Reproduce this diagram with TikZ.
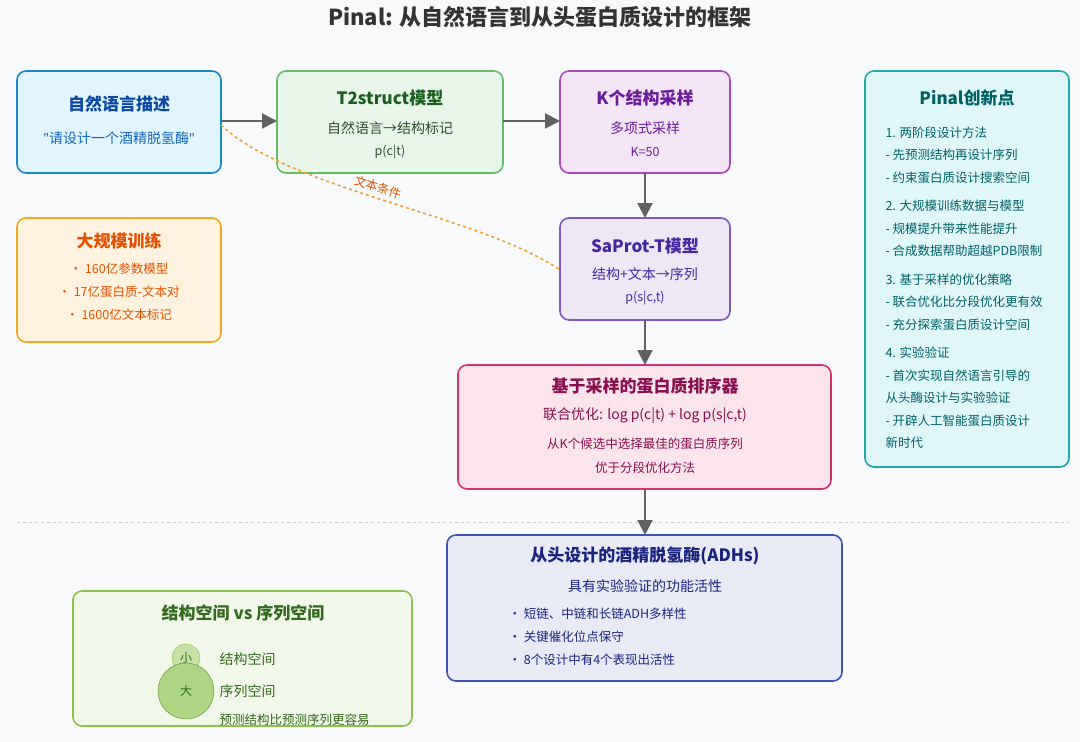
\documentclass[tikz,border=0pt]{standalone}
\usepackage{fontspec}
\setmainfont{Noto Sans CJK SC}
\newfontfamily\latinf{Noto Sans}
\usetikzlibrary{arrows.meta}
\definecolor{bgc}{HTML}{F7F9FB}
\definecolor{arrc}{HTML}{616161}
\definecolor{blueD}{HTML}{1E88C5}\definecolor{blueF}{HTML}{E1F5FE}\definecolor{blueT}{HTML}{0D47A1}\definecolor{blueS}{HTML}{1565C0}
\definecolor{grnD}{HTML}{66BB6A}\definecolor{grnF}{HTML}{E8F5E9}\definecolor{grnT}{HTML}{1B5E20}\definecolor{grnS}{HTML}{2E4E2E}
\definecolor{purD}{HTML}{AB47BC}\definecolor{purF}{HTML}{F3E5F5}\definecolor{purT}{HTML}{6A1B9A}
\definecolor{vioD}{HTML}{7E57C2}\definecolor{vioF}{HTML}{EDE7F6}\definecolor{vioT}{HTML}{4527A0}
\definecolor{orD}{HTML}{F5A623}\definecolor{orF}{HTML}{FFF3E0}\definecolor{orT}{HTML}{E65100}
\definecolor{pinD}{HTML}{D6336C}\definecolor{pinF}{HTML}{FCE4EC}\definecolor{pinT}{HTML}{880E4F}
\definecolor{indD}{HTML}{3F51B5}\definecolor{indF}{HTML}{E8EAF6}\definecolor{indT}{HTML}{1A237E}
\definecolor{limD}{HTML}{8BC34A}\definecolor{limF}{HTML}{F1F8E9}\definecolor{limT}{HTML}{33691E}
\definecolor{limA}{HTML}{C5E1A5}\definecolor{limB}{HTML}{AED581}\definecolor{limC}{HTML}{558B2F}
\definecolor{cyaD}{HTML}{26A6A6}\definecolor{cyaF}{HTML}{E0F7FA}\definecolor{cyaT}{HTML}{006064}
\definecolor{dashO}{HTML}{F0A030}\definecolor{dashT}{HTML}{D35400}
\tikzset{font=\fontsize{12}{14}\selectfont}
\tikzstyle{box}=[draw,line width=1.6pt,rounded corners=9pt]
\tikzstyle{ttl}=[font=\bfseries\fontsize{17}{19}\selectfont]
\tikzstyle{txt}=[font=\fontsize{14}{16}\selectfont]
\tikzstyle{sm}=[font=\fontsize{12.5}{14}\selectfont]
\tikzstyle{flow}=[-{Triangle[length=15pt,width=15pt]},line width=2pt,draw=arrc]

\begin{document}
\begin{tikzpicture}[x=1pt,y=-1pt]
	\fill[bgc] (0,0) rectangle (1080,742);
	\useasboundingbox (0,0) rectangle (1080,742);
	\node [font=\bfseries\fontsize{22}{24}\selectfont,text=black!80] (title) at (540,17) {Pinal: 从自然语言到从头蛋白质设计的框架};
	% boxes
	\draw[box,draw=blueD,fill=blueF] (17,71) rectangle (221,173);
	\draw[box,draw=grnD,fill=grnF] (277,71) rectangle (503,173);
	\draw[box,draw=purD,fill=purF] (560,71) rectangle (730,173);
	\draw[box,draw=vioD,fill=vioF] (560,218) rectangle (730,320);
	\draw[box,draw=orD,fill=orF] (17,218) rectangle (221,342);
	\draw[box,draw=pinD,fill=pinF] (458,365) rectangle (831,489);
	\draw[box,draw=indD,fill=indF] (447,535) rectangle (842,681);
	\draw[box,draw=limD,fill=limF] (73,591) rectangle (412,726);
	\draw[box,draw=cyaD,fill=cyaF] (865,71) rectangle (1069,467);
	\draw[dashed,draw=black!20,line width=0.6pt] (17,522) -- (1069,522);
	% anchors for connectors
	\coordinate (nl) at (221,121);
	\coordinate (t2in) at (277,121);
	\coordinate (t2out) at (503,121);
	\coordinate (kin) at (560,121);
	\coordinate (kout) at (645,173);
	\coordinate (sain) at (645,218);
	\coordinate (saout) at (645,320);
	\coordinate (soin) at (645,365);
	\coordinate (soout) at (645,489);
	\coordinate (adin) at (645,535);
	\coordinate (tc) at (221,125);
	\coordinate (sal) at (560,270);
	% texts
	\node [ttl,text=blueT] (nlt) at (119,104) {自然语言描述};
	\node [txt,text=blueS] (nlq) at (119,138) {{\latinf"}请设计一个酒精脱氢酶{\latinf"}};
	\node [ttl,text=grnT] (t2t) at (390,98) {T2struct模型};
	\node [txt,text=grnS] (t2a) at (390,128) {自然语言→结构标记};
	\node [sm,text=grnS] (t2b) at (390,152) {p(c|t)};
	\node [ttl,text=purT] (kt) at (645,98) {K个结构采样};
	\node [txt,text=purT] (ka) at (645,128) {多项式采样};
	\node [sm,text=purT] (kb) at (645,152) {K=50};
	\node [ttl,text=vioT] (sat) at (645,246) {SaProt-T模型};
	\node [txt,text=vioT] (saa) at (645,274) {结构+文本→序列};
	\node [sm,text=vioT] (sab) at (645,298) {p(s|c,t)};
	\node [ttl,text=orT] (trt) at (119,241) {大规模训练};
	\node [sm,text=orT] (tra) at (119,269) {· 160亿参数模型};
	\node [sm,text=orT] (trb) at (119,292) {· 17亿蛋白质-文本对};
	\node [sm,text=orT] (trc) at (119,315) {· 1600亿文本标记};
	\node [ttl,text=pinT] (sot) at (645,386) {基于采样的蛋白质排序器};
	\node [txt,text=pinT] (soa) at (645,416) {联合优化: log p(c|t) + log p(s|c,t)};
	\node [sm,text=pinT] (sob) at (645,444) {从K个候选中选择最佳的蛋白质序列};
	\node [sm,text=pinT] (soc) at (645,468) {优于分段优化方法};
	\node [ttl,text=indT] (adt) at (645,556) {从头设计的酒精脱氢酶(ADHs)};
	\node [txt,text=indT] (ada) at (645,586) {具有实验验证的功能活性};
	\node [sm,anchor=west,text=indT] (adb) at (505,614) {· 短链、中链和长链ADH多样性};
	\node [sm,anchor=west,text=indT] (adc) at (505,637) {· 关键催化位点保守};
	\node [sm,anchor=west,text=indT] (add) at (505,660) {· 8个设计中有4个表现出活性};
	\node [ttl,text=limT] (spt) at (243,613) {结构空间 vs 序列空间};
	\node [circle,draw=limD,fill=limA,minimum size=28pt,inner sep=0pt,text=limT] (small) at (186,658) {小};
	\node [circle,draw=limC,fill=limB,minimum size=56pt,inner sep=0pt,text=limT] (big) at (186,691) {大};
	\node [txt,anchor=west,text=limT] (spa) at (216,659) {结构空间};
	\node [txt,anchor=west,text=limT] (spb) at (216,691) {序列空间};
	\node [sm,anchor=west,text=limT] (spc) at (216,720) {预测结构比预测序列更容易};
	\node [ttl,text=cyaT] (pit) at (967,98) {Pinal创新点};
	\node [sm,anchor=north west,text=cyaT,align=left,font=\fontsize{12.5}{22.5}\selectfont] (pib) at (882,123) {1. 两阶段设计方法\\- 先预测结构再设计序列\\- 约束蛋白质设计搜索空间\\[6pt]2. 大规模训练数据与模型\\- 规模提升带来性能提升\\- 合成数据帮助超越PDB限制\\[6pt]3. 基于采样的优化策略\\- 联合优化比分段优化更有效\\- 充分探索蛋白质设计空间\\[6pt]4. 实验验证\\- 首次实现自然语言引导的\\从头酶设计与实验验证\\- 开辟人工智能蛋白质设计\\新时代};
	% connectors
	\draw[flow] (nl) -- (t2in);
	\draw[flow] (t2out) -- (kin);
	\draw[flow] (kout) -- (sain);
	\draw[flow] (saout) -- (soin);
	\draw[flow] (soout) -- (adin);
	\draw[dashed,draw=dashO,line width=1.6pt] (tc) .. controls (290,190) and (480,215) .. (sal)
		node [pos=0.47,sloped,above=1pt,font=\fontsize{12}{13}\selectfont,text=dashT] (tcl) {文本条件};
\end{tikzpicture}
\end{document}
